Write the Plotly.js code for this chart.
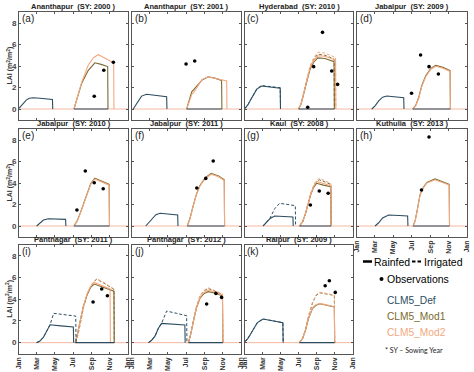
<!DOCTYPE html>
<html>
<head>
<meta charset="utf-8">
<script src="https://cdn.plot.ly/plotly-3.0.1.min.js"></script>
<style>html,body{margin:0;padding:0;background:#fff;}#chart{width:474px;height:372px;}</style>
</head>
<body>
<div id="chart"></div>
<script>
// ---------- axis ticks ----------
const yearSpan = [0, 365];
const monthDays = [0, 59, 120, 181, 243, 304, 365];
const monthLabels = ['Jan', 'Mar', 'May', 'Jul', 'Sep', 'Nov', 'Jan'];
const laiTicks = [0, 2, 4, 6, 8];
const laiTickText = ['0', '2', '4', '6', '8'];
const laiRange = [-1, 9];

const titles = ['Ananthapur  (SY: 2000 )', 'Ananthapur  (SY: 2001 )', 'Hyderabad  (SY: 2010 )', 'Jabalpur  (SY: 2009 )',
  'Jabalpur  (SY: 2010 )', 'Jabalpur  (SY: 2011 )', 'Kaul  (SY: 2008 )', 'Kuthulia  (SY: 2013 )',
  'Pantnagar  (SY: 2011 )', 'Pantnagar  (SY: 2012 )', 'Raipur  (SY: 2009 )'];
const letters = ['(a)', '(b)', '(c)', '(d)', '(e)', '(f)', '(g)', '(h)', '(i)', '(j)', '(k)'];

// ---------- (a) ----------
const a_rabiDays = [0, 8, 16, 25, 35, 48, 70, 95, 112, 113];
const a_rabiDef = [0.05, 0.3, 0.6, 0.85, 1.0, 1.05, 1.0, 0.95, 0.88, 0];
const a_kharDays1 = [184, 193, 210, 232, 254, 275, 297, 298];
const a_mod1 = [0, 0.8, 2.4, 3.6, 4.3, 4.15, 3.95, 0];
const a_kharDays2 = [184, 193, 210, 232, 250, 266, 290, 317, 318];
const a_mod2 = [0, 0.8, 2.5, 4.1, 4.8, 5.05, 4.7, 4.3, 0];
const a_obsDays = [252, 284, 316];
const a_obsLai = [1.18, 3.6, 4.35];

// ---------- (b) ----------
const b_rabiDays = [4, 12, 22, 32, 49, 80, 116, 117];
const b_rabiDef = [0, 0.35, 0.85, 1.2, 1.37, 1.27, 1.15, 0];
const b_kharDays1 = [183, 193, 200, 208, 220, 235, 255, 280, 300, 301];
const b_mod1 = [0, 0.9, 1.6, 1.85, 2.2, 2.7, 3.0, 2.85, 2.65, 0];
const b_kharDays2 = [183, 193, 200, 208, 220, 235, 255, 285, 317, 318];
const b_mod2 = [0, 0.8, 1.35, 1.6, 2.1, 2.75, 3.0, 2.8, 2.6, 0];
const b_obsDays = [181, 210];
const b_obsLai = [4.19, 4.47];

// ---------- (c) ----------
const c_rabiDays = [0, 10, 20, 30, 40, 56, 90, 119, 120];
const c_rabiDef = [0.05, 0.4, 0.9, 1.45, 1.85, 2.14, 2.05, 1.93, 0];
const c_rabiDefIrr = [0.05, 0.4, 0.9, 1.45, 1.88, 2.18, 2.1, 1.98, 0];
const c_kharDays1 = [181, 190, 200, 210, 220, 232, 246, 270, 301, 302];
const c_mod1 = [0, 0.5, 1.6, 2.8, 3.7, 4.35, 4.75, 4.7, 4.4, 0];
const c_mod1Irr = [0, 0.5, 1.7, 2.95, 3.9, 4.6, 5.1, 5.0, 4.65, 0];
const c_kharDays2 = [181, 190, 200, 210, 220, 232, 246, 270, 306, 307];
const c_mod2 = [0, 0.5, 1.65, 2.9, 3.85, 4.5, 4.95, 4.9, 4.55, 0];
const c_mod2Irr = [0, 0.5, 1.75, 3.0, 4.0, 4.75, 5.3, 5.2, 4.8, 0];
const c_obsDays = [212, 232, 262, 293, 313];
const c_obsLai = [0.16, 3.94, 7.13, 3.53, 2.29];

// ---------- (d) ----------
const d_rabiDays = [49, 60, 72, 85, 99, 130, 155, 156];
const d_rabiDef = [0, 0.3, 0.75, 1.1, 1.21, 1.12, 1.05, 0];
const d_kharDays = [185, 195, 205, 215, 228, 245, 261, 285, 309, 310];
const d_mod1 = [0, 0.35, 1.1, 2.2, 3.1, 3.78, 4.06, 3.89, 3.57, 0];
const d_mod2 = [0, 0.3, 1.0, 2.1, 3.0, 3.7, 3.98, 3.8, 3.49, 0];
const d_obsDays = [181, 211, 239, 270];
const d_obsLai = [1.46, 5.02, 3.94, 3.26];

// ---------- (e) ----------
const e_rabiDays = [59, 70, 82, 98, 130, 156, 157];
const e_rabiDef = [0, 0.25, 0.55, 0.68, 0.65, 0.62, 0];
const e_kharDays = [184, 195, 205, 215, 228, 240, 254, 280, 302, 303];
const e_mod1 = [0, 0.5, 1.2, 1.95, 3.1, 3.93, 4.45, 4.17, 3.88, 0];
const e_mod2 = [0, 0.45, 1.15, 1.9, 3.05, 3.86, 4.37, 4.09, 3.8, 0];
const e_obsDays = [194, 222, 252, 282];
const e_obsLai = [1.49, 5.12, 4.03, 3.47];

// ---------- (f) ----------
const f_rabiDays = [46, 56, 68, 80, 94, 125, 153, 154];
const f_rabiDef = [0, 0.3, 0.7, 1.05, 1.18, 1.1, 1.02, 0];
const f_kharDays = [185, 194, 205, 215, 228, 245, 265, 290, 309, 310];
const f_mod1 = [0, 0.7, 1.9, 2.9, 3.8, 4.48, 4.9, 4.66, 4.3, 0];
const f_mod2 = [0, 0.65, 1.85, 2.85, 3.75, 4.4, 4.82, 4.58, 4.22, 0];
const f_obsDays = [217, 247, 272];
const f_obsLai = [3.53, 4.43, 6.05];

// ---------- (g) ----------
const g_rabiDays = [61, 72, 85, 100, 130, 162, 163];
const g_rabiDef = [0, 0.3, 0.7, 0.93, 0.88, 0.84, 0];
const g_rabiIrrDays = [61, 72, 84, 100, 117, 145, 170, 171];
const g_rabiDefIrr = [0, 0.3, 0.7, 1.6, 2.11, 2.0, 1.89, 0];
const g_kharDays = [184, 195, 205, 212, 222, 232, 242, 265, 290, 291];
const g_mod1 = [0, 0.4, 1.2, 1.95, 2.9, 3.6, 3.97, 3.8, 3.66, 0];
const g_mod2 = [0, 0.4, 1.2, 1.95, 2.95, 3.7, 4.15, 3.95, 3.75, 0];
const g_kharIrrDays = [184, 195, 205, 212, 222, 235, 251, 270, 290, 291];
const g_mod1Irr = [0, 0.4, 1.2, 2.0, 3.0, 3.9, 4.3, 4.1, 3.87, 0];
const g_mod2Irr = [0, 0.4, 1.2, 2.0, 3.05, 4.0, 4.45, 4.2, 3.95, 0];
const g_obsDays = [221, 251, 281];
const g_obsLai = [1.95, 3.26, 3.04];

// ---------- (h) ----------
const h_rabiDays = [60, 72, 85, 105, 140, 168, 169];
const h_rabiDef = [0, 0.3, 0.75, 1.02, 0.97, 0.93, 0];
const h_kharDays = [186, 193, 200, 209, 220, 232, 259, 285, 306, 307];
const h_mod1 = [0, 0.5, 1.5, 2.9, 3.6, 4.05, 4.38, 4.12, 3.88, 0];
const h_mod2 = [0, 0.45, 1.45, 2.85, 3.55, 4.0, 4.3, 4.05, 3.81, 0];
const h_obsDays = [214, 239];
const h_obsLai = [3.35, 8.28];

// ---------- (i) ----------
const i_rabiDays = [59, 70, 82, 95, 104, 140, 182, 183];
const i_rabiDef = [0, 0.15, 0.5, 1.2, 1.65, 1.55, 1.45, 0];
const i_rabiIrrDays = [59, 70, 82, 95, 104, 116, 150, 190, 191];
const i_rabiDefIrr = [0, 0.15, 0.5, 1.2, 1.65, 2.7, 2.58, 2.45, 0];
const i_kharDays1 = [188, 196, 205, 215, 228, 240, 252, 285, 318, 319];
const i_mod1 = [0, 0.8, 2.0, 3.3, 4.4, 5.1, 5.4, 5.1, 4.75, 0];
const i_kharDays2 = [188, 196, 205, 215, 228, 240, 252, 280, 305, 306];
const i_mod2 = [0, 0.8, 2.0, 3.3, 4.5, 5.2, 5.55, 5.25, 4.95, 0];
const i_kharIrrDays = [190, 198, 207, 217, 230, 245, 260, 290, 318, 319];
const i_mod1Irr = [0, 0.8, 2.0, 3.4, 4.6, 5.4, 5.85, 5.4, 4.9, 0];
const i_mod2Irr = [0, 0.8, 2.0, 3.4, 4.6, 5.45, 5.9, 5.45, 4.95, 0];
const i_obsDays = [248, 277, 296];
const i_obsLai = [3.74, 4.94, 4.32];

// ---------- (j) ----------
const j_rabiDays = [55, 65, 77, 88, 99, 140, 177, 178];
const j_rabiDef = [0, 0.2, 0.6, 1.3, 1.78, 1.7, 1.63, 0];
const j_rabiIrrDays = [55, 65, 77, 88, 99, 116, 150, 183, 184];
const j_rabiDefIrr = [0, 0.2, 0.6, 1.3, 1.78, 2.91, 2.7, 2.48, 0];
const j_kharDays = [189, 197, 206, 216, 228, 240, 255, 280, 303, 304];
const j_mod1 = [0, 0.8, 2.0, 3.2, 4.1, 4.5, 4.7, 4.55, 4.3, 0];
const j_mod2 = [0, 0.8, 2.0, 3.25, 4.2, 4.6, 4.85, 4.65, 4.38, 0];
const j_mod1Irr = [0, 0.8, 2.05, 3.3, 4.3, 4.75, 5.0, 4.75, 4.45, 0];
const j_mod2Irr = [0, 0.8, 2.05, 3.35, 4.35, 4.8, 5.06, 4.8, 4.5, 0];
const j_obsDays = [250, 281, 300];
const j_obsLai = [3.56, 4.54, 4.17];

// ---------- (k) ----------
const k_rabiDays = [0, 10, 20, 30, 42, 61, 95, 128, 129];
const k_rabiDef = [0.1, 0.4, 0.85, 1.35, 1.85, 2.18, 2.0, 1.84, 0];
const k_rabiDefIrr = [0.1, 0.4, 0.85, 1.35, 1.85, 2.18, 2.0, 1.84, 0];
const k_kharDays = [184, 195, 205, 215, 228, 240, 253, 275, 302, 303];
const k_mod1 = [0, 0.4, 1.2, 2.25, 3.15, 3.45, 3.58, 3.45, 3.28, 0];
const k_mod2 = [0, 0.4, 1.2, 2.3, 3.2, 3.5, 3.62, 3.5, 3.31, 0];
const k_mod1Irr = [0, 0.4, 1.25, 2.45, 3.65, 4.35, 4.6, 4.5, 4.35, 0];
const k_mod2Irr = [0, 0.4, 1.25, 2.5, 3.7, 4.4, 4.65, 4.55, 4.39, 0];
const k_obsDays = [271, 285, 305];
const k_obsLai = [5.24, 5.7, 4.63];

// ---------- panel table built from the arrays ----------
const panels = [
  {rd: a_rabiDays, rdef: a_rabiDef, kd1: a_kharDays1, m1: a_mod1, kd2: a_kharDays2, m2: a_mod2, od: a_obsDays, ol: a_obsLai},
  {rd: b_rabiDays, rdef: b_rabiDef, kd1: b_kharDays1, m1: b_mod1, kd2: b_kharDays2, m2: b_mod2, od: b_obsDays, ol: b_obsLai},
  {rd: c_rabiDays, rdef: c_rabiDef, rdI: c_rabiDays, rdefI: c_rabiDefIrr, kd1: c_kharDays1, m1: c_mod1, kd2: c_kharDays2, m2: c_mod2,
   kdI1: c_kharDays1, m1I: c_mod1Irr, kdI2: c_kharDays2, m2I: c_mod2Irr, od: c_obsDays, ol: c_obsLai},
  {rd: d_rabiDays, rdef: d_rabiDef, kd1: d_kharDays, m1: d_mod1, kd2: d_kharDays, m2: d_mod2, od: d_obsDays, ol: d_obsLai},
  {rd: e_rabiDays, rdef: e_rabiDef, kd1: e_kharDays, m1: e_mod1, kd2: e_kharDays, m2: e_mod2, od: e_obsDays, ol: e_obsLai},
  {rd: f_rabiDays, rdef: f_rabiDef, kd1: f_kharDays, m1: f_mod1, kd2: f_kharDays, m2: f_mod2, od: f_obsDays, ol: f_obsLai},
  {rd: g_rabiDays, rdef: g_rabiDef, rdI: g_rabiIrrDays, rdefI: g_rabiDefIrr, kd1: g_kharDays, m1: g_mod1, kd2: g_kharDays, m2: g_mod2,
   kdI1: g_kharIrrDays, m1I: g_mod1Irr, kdI2: g_kharIrrDays, m2I: g_mod2Irr, od: g_obsDays, ol: g_obsLai},
  {rd: h_rabiDays, rdef: h_rabiDef, kd1: h_kharDays, m1: h_mod1, kd2: h_kharDays, m2: h_mod2, od: h_obsDays, ol: h_obsLai},
  {rd: i_rabiDays, rdef: i_rabiDef, rdI: i_rabiIrrDays, rdefI: i_rabiDefIrr, kd1: i_kharDays1, m1: i_mod1, kd2: i_kharDays2, m2: i_mod2,
   kdI1: i_kharIrrDays, m1I: i_mod1Irr, kdI2: i_kharIrrDays, m2I: i_mod2Irr, od: i_obsDays, ol: i_obsLai},
  {rd: j_rabiDays, rdef: j_rabiDef, rdI: j_rabiIrrDays, rdefI: j_rabiDefIrr, kd1: j_kharDays, m1: j_mod1, kd2: j_kharDays, m2: j_mod2,
   kdI1: j_kharDays, m1I: j_mod1Irr, kdI2: j_kharDays, m2I: j_mod2Irr, od: j_obsDays, ol: j_obsLai},
  {rd: k_rabiDays, rdef: k_rabiDef, rdI: k_rabiDays, rdefI: k_rabiDefIrr, kd1: k_kharDays, m1: k_mod1, kd2: k_kharDays, m2: k_mod2,
   kdI1: k_kharDays, m1I: k_mod1Irr, kdI2: k_kharDays, m2I: k_mod2Irr, od: k_obsDays, ol: k_obsLai}
];

// ---------- styling / layout ----------
const DEF = '#2c4d61', MOD1 = '#7b6a2e', MOD2 = '#f3a87f', BASE = '#f5b7a0';
const W = 474, H = 372;
const colPx = [[19, 128], [132, 241], [245, 353], [357, 467]];
const rowPx = [[12.25, 119.75], [129.25, 236.75], [245, 353.5]];
const px = p => p / W;
const py = p => 1 - p / H;

const traces = [];
const layout = {
  width: W, height: H, margin: {l: 0, r: 0, t: 0, b: 0, pad: 0},
  paper_bgcolor: '#fff', plot_bgcolor: '#fff', showlegend: false,
  font: {family: 'Arial, Liberation Sans, sans-serif', color: '#222', size: 8},
  annotations: [], shapes: []
};

function line(n, x, y, color, dash, width) {
  traces.push({x: x, y: y, xaxis: 'x' + n, yaxis: 'y' + n, mode: 'lines', hoverinfo: 'skip',
    line: {color: color, width: width || 1, dash: dash || 'solid'}});
}

panels.forEach((p, idx) => {
  const r = Math.floor(idx / 4), c = idx % 4;
  const s = idx === 0 ? '' : String(idx + 1);
  const n = s;
  const showX = (r === 2) || idx === 7;
  const showY = c === 0;
  const axCommon = {showline: true, mirror: 'ticks', linecolor: '#555', linewidth: 1, ticks: 'inside', ticklen: 2,
    tickcolor: '#555', showgrid: false, zeroline: false, fixedrange: true, automargin: false};
  layout['xaxis' + s] = Object.assign({}, axCommon, {
    domain: [px(colPx[c][0]), px(colPx[c][1])], range: yearSpan, anchor: 'y' + s,
    tickmode: 'array', tickvals: monthDays, ticktext: monthLabels, tickangle: -90,
    showticklabels: showX, tickfont: {family: 'Arial', size: 7, color: '#333', weight: 'bold'}
  });
  layout['yaxis' + s] = Object.assign({}, axCommon, {
    domain: [py(rowPx[r][1]), py(rowPx[r][0])], range: laiRange, anchor: 'x' + s,
    tickmode: 'array', tickvals: laiTicks, ticktext: laiTickText, showticklabels: showY,
    tickfont: {family: 'Arial', size: 8, color: '#444', weight: 'bold'}
  });

  // zero baseline (Mod2) across the year
  line(n, yearSpan, yearSpan.map(() => 0), BASE, 'solid', 1);
  // irrigated kharif
  if (p.m1I) line(n, p.kdI1, p.m1I, MOD1, '3px,2px', 1);
  if (p.m2I) line(n, p.kdI2, p.m2I, MOD2, '3px,2px', 1);
  // rainfed kharif
  line(n, p.kd1, p.m1, MOD1, 'solid', 1.1);
  line(n, p.kd2, p.m2, MOD2, 'solid', 1.1);
  // Def gives zero during kharif
  const kx = [p.kd1[0], p.kd1[p.kd1.length - 1]];
  line(n, kx, kx.map(() => 0), DEF, 'solid', 1.1);
  // rabi Def
  line(n, p.rd, p.rdef, DEF, 'solid', 1.1);
  if (p.rdefI) line(n, p.rdI, p.rdefI, DEF, '3px,2px', 1);
  // observations
  traces.push({x: p.od, y: p.ol, xaxis: 'x' + n, yaxis: 'y' + n, mode: 'markers', hoverinfo: 'skip',
    marker: {color: '#000', size: 3.6}});

  // title
  layout.annotations.push({xref: 'paper', yref: 'paper', x: px((colPx[c][0] + colPx[c][1]) / 2), y: py(rowPx[r][0] - 5.5),
    xanchor: 'center', yanchor: 'middle', showarrow: false, text: '<b>' + titles[idx].replace(/  /g, ' \u00a0') + '</b>',
    font: {family: 'Arial', size: 7.5, color: '#222'}});
  // panel letter
  layout.annotations.push({xref: 'paper', yref: 'paper', x: px(colPx[c][0] + 0.5), y: py(rowPx[r][0] + 6.5),
    xanchor: 'left', yanchor: 'middle', showarrow: false, text: letters[idx],
    font: {family: 'Arial', size: 10, color: '#222'}});
  // y title
  if (showY) {
    layout.annotations.push({xref: 'paper', yref: 'paper', x: px(9.5), y: py((rowPx[r][0] + rowPx[r][1]) / 2),
      xanchor: 'center', yanchor: 'middle', showarrow: false, textangle: -90,
      text: '<b>LAI (m<sup>2</sup>/m<sup>2</sup>)</b>', font: {family: 'Arial', size: 7, color: '#333'}});
  }
});

// ---------- legend (drawn in paper space) ----------
const legY1 = 261.5, legY2 = 279;
layout.shapes.push({type: 'line', xref: 'paper', yref: 'paper', x0: px(363), x1: px(372), y0: py(legY1), y1: py(legY1),
  line: {color: '#000', width: 2.5}});
layout.shapes.push({type: 'line', xref: 'paper', yref: 'paper', x0: px(412), x1: px(415.5), y0: py(legY1), y1: py(legY1),
  line: {color: '#000', width: 2}});
layout.shapes.push({type: 'line', xref: 'paper', yref: 'paper', x0: px(417.5), x1: px(421), y0: py(legY1), y1: py(legY1),
  line: {color: '#000', width: 2}});
layout.shapes.push({type: 'circle', xref: 'paper', yref: 'paper', x0: px(379.5), x1: px(383.5), y0: py(legY2 + 2), y1: py(legY2 - 2),
  fillcolor: '#000', line: {width: 0}});
function legText(x, y, t, color, size, fam) {
  layout.annotations.push({xref: 'paper', yref: 'paper', x: px(x), y: py(y), xanchor: 'left', yanchor: 'middle',
    showarrow: false, text: t, font: {family: fam || 'Arial', size: size || 10.5, color: color || '#000'}});
}
legText(372, legY1, 'Rainfed');
legText(422, legY1, 'Irrigated');
legText(385, legY2, 'Observations');
legText(385, 300.5, 'CLM5_Def', DEF, 10.2);
legText(385, 316.5, 'CLM5_Mod1', MOD1, 10.2);
legText(385, 332.5, 'CLM5_Mod2', MOD2, 10.2);
legText(383, 349.5, '* SY \u2013 Sowing Year', '#222', 7, 'Lato, Open Sans, sans-serif');

Plotly.newPlot('chart', traces, layout, {staticPlot: true, displayModeBar: false});
</script>
</body>
</html>
